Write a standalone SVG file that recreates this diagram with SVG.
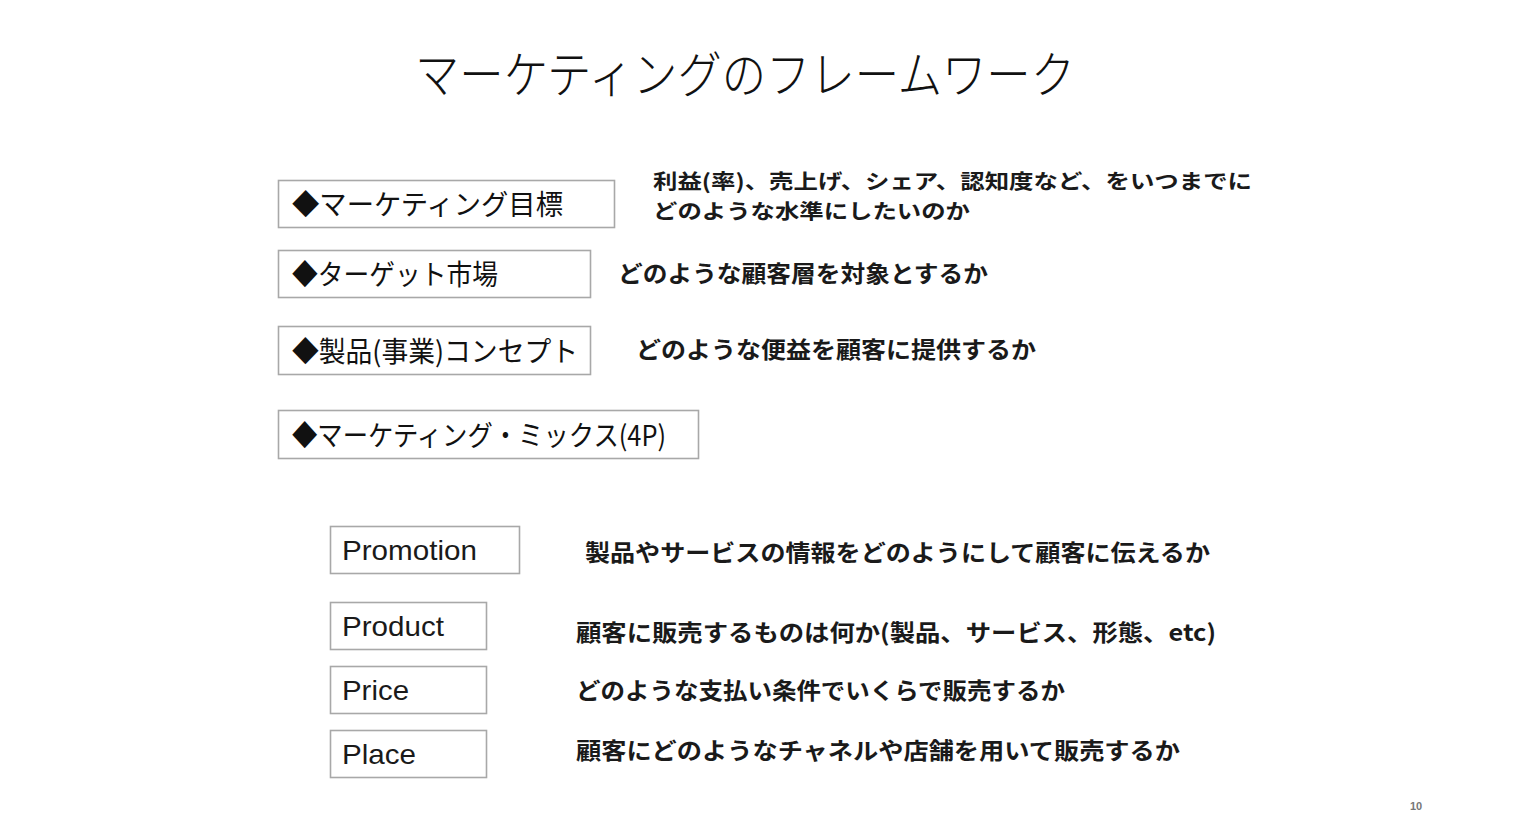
<svg xmlns="http://www.w3.org/2000/svg" width="1536" height="838" viewBox="0 0 1536 838">
<style>
.bg{fill:#ffffff}
.box{fill:#ffffff;stroke:#a8a8a8;stroke-width:1.6}
.title{font-family:"Noto Sans CJK JP","Noto Sans",sans-serif;font-weight:300;font-size:50px;fill:#111}
.lbl{font-family:"Noto Sans CJK JP",sans-serif;font-weight:400;font-size:28px;fill:#111}
.desc{font-family:"Noto Sans CJK JP",sans-serif;font-weight:700;font-size:23px;fill:#1a1a1a}
.desc2{font-family:"Noto Sans CJK JP",sans-serif;font-weight:700;font-size:20.5px;fill:#1a1a1a}
.en{font-family:"Liberation Sans",Arial,sans-serif;font-size:28px;fill:#1a1a1a}
.pg{font-family:"Liberation Sans",Arial,sans-serif;font-weight:700;font-size:11px;fill:#777}
</style>
<rect class="bg" x="0" y="0" width="1536" height="838"/>
<text class="title" x="415" y="93" textLength="660" lengthAdjust="spacingAndGlyphs">マーケティングのフレームワーク</text>

<g id="goal">
<rect class="box" x="278.5" y="180.5" width="336" height="47"/>
<text class="lbl" x="292" y="215" textLength="271" lengthAdjust="spacingAndGlyphs">◆マーケティング目標</text>
<text class="desc2" x="653" y="189" textLength="599" lengthAdjust="spacingAndGlyphs">利益(率)、売上げ、シェア、認知度など、をいつまでに</text>
<text class="desc2" x="653" y="219" textLength="317" lengthAdjust="spacingAndGlyphs">どのような水準にしたいのか</text>
</g>
<g id="target">
<rect class="box" x="278.5" y="250.5" width="312" height="47"/>
<text class="lbl" x="292" y="285" textLength="206" lengthAdjust="spacingAndGlyphs">◆ターゲット市場</text>
<text class="desc" x="618" y="282" textLength="370" lengthAdjust="spacingAndGlyphs">どのような顧客層を対象とするか</text>
</g>
<g id="concept">
<rect class="box" x="278.5" y="326.5" width="312" height="48"/>
<text class="lbl" x="292" y="362" textLength="286" lengthAdjust="spacingAndGlyphs">◆製品(事業)コンセプト</text>
<text class="desc" x="636" y="358" textLength="400" lengthAdjust="spacingAndGlyphs">どのような便益を顧客に提供するか</text>
</g>
<g id="mix">
<rect class="box" x="278.5" y="410.5" width="420" height="48"/>
<text class="lbl" x="292" y="446" textLength="374" lengthAdjust="spacingAndGlyphs">◆マーケティング・ミックス(4P)</text>
</g>
<g id="promotion">
<rect class="box" x="330.5" y="526.5" width="189" height="47"/>
<text class="en" x="342" y="560" textLength="135" lengthAdjust="spacingAndGlyphs">Promotion</text>
<text class="desc" x="585" y="561" textLength="625" lengthAdjust="spacingAndGlyphs">製品やサービスの情報をどのようにして顧客に伝えるか</text>
</g>
<g id="product">
<rect class="box" x="330.5" y="602.5" width="156" height="47"/>
<text class="en" x="342" y="636" textLength="102" lengthAdjust="spacingAndGlyphs">Product</text>
<text class="desc" x="576" y="641" textLength="640" lengthAdjust="spacingAndGlyphs">顧客に販売するものは何か(製品、サービス、形態、etc)</text>
</g>
<g id="price">
<rect class="box" x="330.5" y="666.5" width="156" height="47"/>
<text class="en" x="342" y="700" textLength="67" lengthAdjust="spacingAndGlyphs">Price</text>
<text class="desc" x="576" y="699" textLength="489" lengthAdjust="spacingAndGlyphs">どのような支払い条件でいくらで販売するか</text>
</g>
<g id="place">
<rect class="box" x="330.5" y="730.5" width="156" height="47"/>
<text class="en" x="342" y="764" textLength="74" lengthAdjust="spacingAndGlyphs">Place</text>
<text class="desc" x="576" y="759" textLength="604" lengthAdjust="spacingAndGlyphs">顧客にどのようなチャネルや店舗を用いて販売するか</text>
</g>
<g id="connectors"></g>
<text class="pg" x="1410" y="810">10</text>
</svg>
